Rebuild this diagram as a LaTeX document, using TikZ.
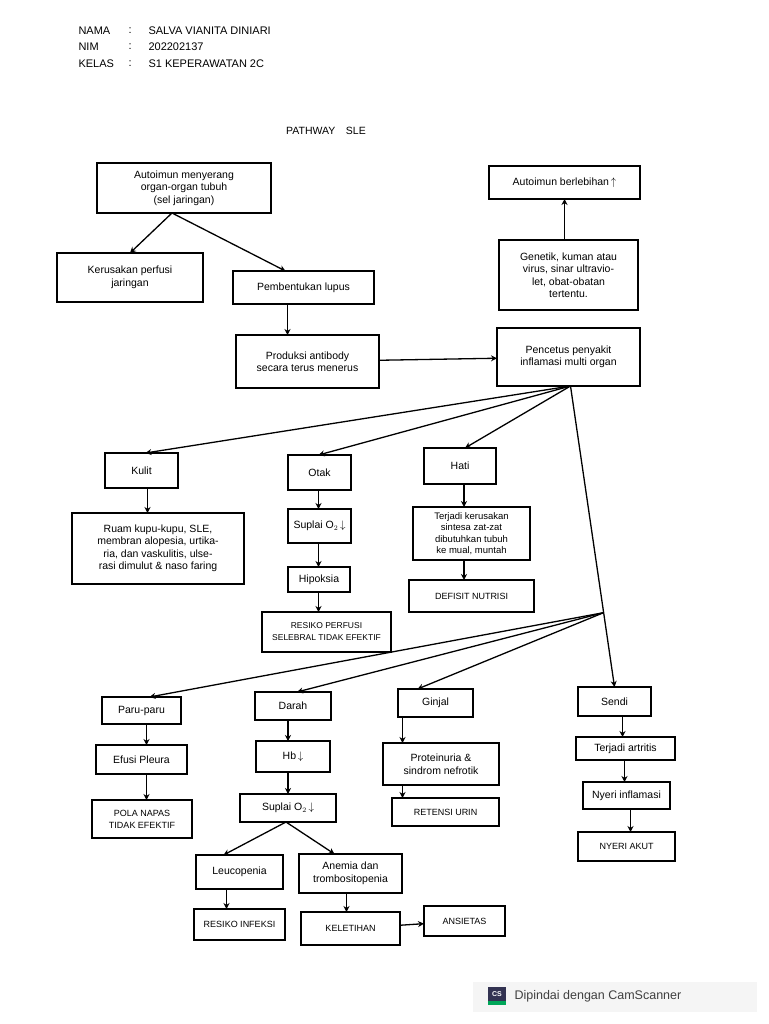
\documentclass[tikz,border=0pt]{standalone}
\usepackage{fontspec}
\setmainfont{Liberation Sans}
\usetikzlibrary{positioning,arrows.meta}

\begin{document}
\begin{tikzpicture}[
    x=1pt, y=-1pt,
    box/.style = {
        draw, rectangle, align=center, line width=1.6pt,
        font=\fontsize{10.5}{12.5}\selectfont, inner sep=2pt, outer sep=0pt},
    capbox/.style = {
        box, font=\fontsize{9}{12}\selectfont},
    head/.style = {anchor=west, font=\fontsize{11}{13}\selectfont},
    arrow/.style = {line width=1.3pt, -{Stealth[length=6pt,width=6pt]}}
                    ]
\useasboundingbox (0,0) rectangle (768,1024);
\fill[white] (0,0) rectangle (768,1024);
% the header
\node[head] (nama)  at (75,31)  {NAMA};
\node[head] (nim)   at (75,47)  {NIM};
\node[head] (kelas) at (75,64)  {KELAS};
\node[head] at (125,31) {:};
\node[head] at (125,47) {:};
\node[head] at (125,64) {:};
\node[head] at (145,31) {SALVA VIANITA DINIARI};
\node[head] at (145,47) {202202137};
\node[head] at (145,64) {S1 KEPERAWATAN 2C};
% the title
\node[font=\fontsize{10.5}{12}\selectfont] (title) at (326,131) {PATHWAY\quad SLE};
% the nodes at the top
\node (a) [box, minimum width=174, minimum height=50] at (184,188)
    {Autoimun menyerang\\ organ-organ tubuh\\ (sel jaringan)};
\node (b) [box, minimum width=146, minimum height=49] at (130,277.5)
    {Kerusakan perfusi\\ jaringan};
\node (c) [box, minimum width=141, minimum height=33] at (303.5,287.5)
    {Pembentukan lupus};
\node (d) [box, minimum width=143, minimum height=53] at (307.5,361.5)
    {Produksi antibody\\ secara terus menerus};
\node (e) [box, minimum width=151, minimum height=33] at (564.5,182.5)
    {Autoimun berlebihan\,$\uparrow$};
\node (f) [box, minimum width=139, minimum height=70] at (568.5,275)
    {Genetik, kuman atau\\ virus, sinar ultravio-\\ let, obat-obatan\\ tertentu.};
\node (g) [box, minimum width=143, minimum height=58] at (568.5,357)
    {Pencetus penyakit\\ inflamasi multi organ};
% the organs, first row
\node (kulit) [box, minimum width=73, minimum height=35] at (141.5,470.5) {Kulit};
\node (ruam)  [box, minimum width=172, minimum height=71] at (158,548.5)
    {Ruam kupu-kupu, SLE,\\ membran alopesia, urtika-\\ ria, dan vaskulitis, ulse-\\ rasi dimulut \& naso faring};
\node (otak)  [box, minimum width=63, minimum height=35] at (319.5,472.5) {Otak};
\node (supo)  [box, minimum width=63, minimum height=34] at (319.5,526) {Suplai O$_2$\,$\downarrow$};
\node (hipo)  [box, minimum width=62, minimum height=25] at (319,579.5) {Hipoksia};
\node (rpsl)  [capbox, font=\fontsize{8.5}{12}\selectfont, minimum width=129, minimum height=40] at (326.5,632)
    {RESIKO PERFUSI\\ SELEBRAL TIDAK EFEKTIF};
\node (hati)  [box, minimum width=72, minimum height=36] at (460,466) {Hati};
\node (sint)  [box, font=\fontsize{9.5}{11.5}\selectfont, minimum width=117, minimum height=53] at (471.5,533.5)
    {Terjadi kerusakan\\ sintesa zat-zat\\ dibutuhkan tubuh\\ ke mual, muntah};
\node (nutr)  [capbox, minimum width=125, minimum height=32] at (471.5,596) {DEFISIT NUTRISI};
% the organs, second row
\node (paru)  [box, minimum width=79, minimum height=27] at (141.5,710.5) {Paru-paru};
\node (efus)  [box, minimum width=91, minimum height=29] at (141.5,759.5) {Efusi Pleura};
\node (pola)  [capbox, minimum width=100, minimum height=38] at (142,819) {POLA NAPAS\\ TIDAK EFEKTIF};
\node (darah) [box, minimum width=76, minimum height=28] at (293,706) {Darah};
\node (hb)    [box, minimum width=74, minimum height=31] at (293,756.5) {Hb\,$\downarrow$};
\node (supd)  [box, minimum width=96, minimum height=28] at (288,808) {Suplai O$_2$\,$\downarrow$};
\node (leuk)  [box, minimum width=87, minimum height=34] at (239.5,872) {Leucopenia};
\node (anem)  [box, minimum width=103, minimum height=39] at (350.5,873.5) {Anemia dan\\ trombositopenia};
\node (rinf)  [capbox, minimum width=91, minimum height=31] at (239.5,924.5) {RESIKO INFEKSI};
\node (kelt)  [capbox, minimum width=99, minimum height=33] at (350.5,928.5) {KELETIHAN};
\node (ansi)  [capbox, minimum width=81, minimum height=30] at (464.5,921) {ANSIETAS};
\node (ginj)  [box, minimum width=75, minimum height=28] at (435.5,703) {Ginjal};
\node (prot)  [box, minimum width=116, minimum height=42] at (441,764)
    {Proteinuria \&\\ sindrom nefrotik};
\node (reten) [capbox, minimum width=107, minimum height=28] at (445.5,812) {RETENSI URIN};
\node (sendi) [box, minimum width=73, minimum height=29] at (614.5,701.5) {Sendi};
\node (artr)  [box, minimum width=99, minimum height=23] at (625.5,748.5) {Terjadi artritis};
\node (nyin)  [box, minimum width=87, minimum height=27] at (626.5,795.5) {Nyeri inflamasi};
\node (nyak)  [capbox, minimum width=97, minimum height=29] at (626.5,846.5) {NYERI AKUT};
% arrows at the top
\draw[arrow] ([xshift=-12] a.south) coordinate (af) -- (b.north);
\draw[arrow] (af) -- ([xshift=-18] c.north);
\draw[arrow] ([xshift=-16] c.south) coordinate (cs) -- (cs |- d.north);
\draw[arrow] (d) -- (g);
\draw[arrow] (e.south |- f.north) -- (e.south);
% the fan from the trigger
\draw[arrow] ([xshift=2] g.south) coordinate (gs) -- (sendi.north)
    coordinate[pos=0.753] (br);
\draw[arrow] (gs) -- ([xshift=4] kulit.north);
\draw[arrow] (gs) -- ([xshift=-1] otak.north);
\draw[arrow] (gs) -- ([xshift=5] hati.north);
\draw[arrow] (br) -- ([xshift=8] paru.north);
\draw[arrow] (br) -- ([xshift=4] darah.north);
\draw[arrow] (br) -- ([xshift=-18] ginj.north);
% the chains below each organ
\draw[arrow] ([xshift=6] kulit.south) coordinate (k1) -- (k1 |- ruam.north);
\draw[arrow] ([xshift=-1] otak.south) coordinate (o1) -- (o1 |- supo.north);
\draw[arrow] (o1 |- supo.south) -- (o1 |- hipo.north);
\draw[arrow] (o1 |- hipo.south) -- (o1 |- rpsl.north);
\draw[arrow] ([xshift=4] hati.south) coordinate (h1) -- (h1 |- sint.north);
\draw[arrow] (h1 |- sint.south) -- (h1 |- nutr.north);
\draw[arrow] ([xshift=5] paru.south) coordinate (p1) -- (p1 |- efus.north);
\draw[arrow] (p1 |- efus.south) -- (p1 |- pola.north);
\draw[arrow] ([xshift=-5] darah.south) coordinate (d1) -- (d1 |- hb.north);
\draw[arrow] (d1 |- hb.south) -- (d1 |- supd.north);
\draw[arrow] ([xshift=-2] supd.south) coordinate (s1) -- ([xshift=-16] leuk.north);
\draw[arrow] (s1) -- ([xshift=-16] anem.north);
\draw[arrow] ([xshift=-13] leuk.south) coordinate (l1) -- (l1 |- rinf.north);
\draw[arrow] ([xshift=-4] anem.south) coordinate (n1) -- (n1 |- kelt.north);
\draw[arrow] (kelt) -- (ansi);
\draw[arrow] ([xshift=-33] ginj.south) coordinate (g1) -- (g1 |- prot.north);
\draw[arrow] (g1 |- prot.south) -- (g1 |- reten.north);
\draw[arrow] ([xshift=8] sendi.south) coordinate (e1) -- (e1 |- artr.north);
\draw[arrow] ([xshift=2] e1 |- artr.south) coordinate (e2) -- (e2 |- nyin.north);
\draw[arrow] ([xshift=6] e2 |- nyin.south) coordinate (e3) -- (e3 |- nyak.north);
% the scanner badge
\fill[gray!8] (473,982) rectangle (757,1012);
\fill[black!80!blue!60!gray] (488,987) rectangle (506,1005);
\fill[teal!70!green] (488,1001) rectangle (506,1005);
\node[text=white, font=\bfseries\fontsize{7}{8}\selectfont] (cs) at (497,994.5) {CS};
\node[anchor=west, text=black!75, font=\fontsize{12.5}{14}\selectfont] (scan) at (511,996.5)
    {Dipindai dengan CamScanner};
\end{tikzpicture}
\end{document}
